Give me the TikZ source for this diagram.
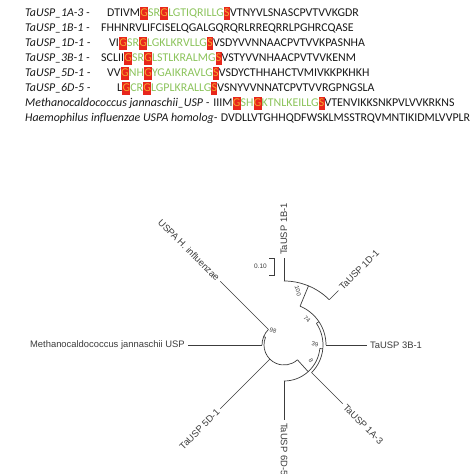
\documentclass[tikz,border=0pt]{standalone}
\usepackage{fontspec}
\setmainfont{Carlito}
\newfontfamily\treefont{Liberation Sans}
\definecolor{hlred}{RGB}{232,38,28}
\definecolor{hlorg}{RGB}{246,165,45}
\definecolor{seqgreen}{RGB}{140,196,92}
\definecolor{seqblack}{RGB}{25,25,25}
\definecolor{treegray}{RGB}{60,60,60}
\newcommand{\hlb}[1]{{\setlength{\fboxsep}{0.3pt}\colorbox{hlred}{\rule[-2.7pt]{0pt}{12pt}\textcolor{hlorg}{#1}}}}
\newcommand{\grn}[1]{\textcolor{seqgreen}{#1}}
\begin{document}
\begin{tikzpicture}[x=1pt,y=1pt,
  seq/.style={anchor=base west, inner sep=0pt, font=\fontsize{11.9}{13}\selectfont, text=seqblack},
  lab/.style={anchor=base west, inner sep=0pt, font=\fontsize{11.9}{13}\selectfont\itshape, text=seqblack},
  branch/.style={draw=treegray, line width=0.7pt},
  leaf/.style={font=\treefont\fontsize{9.4}{11}\selectfont, inner sep=0pt, text=treegray},
  boot/.style={font=\treefont\fontsize{6}{7}\selectfont, inner sep=0pt, text=treegray}]
\clip (0,0) rectangle (474,474);
\fill[white] (0,0) rectangle (474,474);
% alignment rows
\node[lab] (l1) at (25,457) {TaUSP\_1A-3 -};
\node[seq] (s1) at (107,457) {DTIVM\hlb{G}\grn{SR}\hlb{G}\grn{LGTIQRILLG}\hlb{S}VTNYVLSNASCPVTVVKGDR};
\node[lab] (l2) at (25,442) {TaUSP\_1B-1 -};
\node[seq] (s2) at (101,442) {FHHNRVLIFCISELQGALGQRQRLRREQRRLPGHRCQASE};
\node[lab] (l3) at (25,427) {TaUSP\_1D-1 -};
\node[seq] (s3) at (109,427) {VI\hlb{G}\grn{SR}\hlb{G}\grn{LGKLKRVLLG}\hlb{S}VSDYVVNNAACPVTVVKPASNHA};
\node[lab] (l4) at (25,412) {TaUSP\_3B-1 -};
\node[seq] (s4) at (101,412) {SCLII\hlb{G}\grn{SR}\hlb{G}\grn{LSTLKRALMG}\hlb{S}VSTYVVNHAACPVTVVKENM};
\node[lab] (l5) at (25,397) {TaUSP\_5D-1 -};
\node[seq] (s5) at (107,397) {VV\hlb{G}\grn{NH}\hlb{G}\grn{YGAIKRAVLG}\hlb{S}VSDYCTHHAHCTVMIVKKPKHKH};
\node[lab] (l6) at (25,382) {TaUSP\_6D-5 -};
\node[seq] (s6) at (117,382) {L\hlb{G}\grn{CR}\hlb{G}\grn{LGPLKRALLG}\hlb{S}VSNYVVNNATCPVTVVRGPNGSLA};
\node[lab] (l7) at (25,367) {Methanocaldococcus jannaschii\_USP -};
\node[seq] (s7) at ([xshift=3.5pt]l7.base east) {IIIM\hlb{G}\grn{SH}\hlb{G}\grn{KTNLKEILLG}\hlb{S}VTENVIKKSNKPVLVVKRKNS};
\node[lab] (l8) at (25,352) {Haemophilus influenzae USPA homolog-};
\node[seq] (s8) at ([xshift=3pt]l8.base east) {DVDLLVTGHHQDFWSKLMSSTRQVMNTIKIDMLVVPLR};
% tree
\begin{scope}[shift={(284,129)}]
  \coordinate (nA) at (67.5:64);
  \coordinate (nB) at (33.75:42);
  \coordinate (nD) at (-5.625:39);
  \coordinate (nE) at (-47.8125:36);
  \coordinate (nG) at (157.5:22);
  \coordinate (nF) at (0,0);
  % clade 100
  \draw[branch] (90:64) -- (90:87);
  \draw[branch] (45:64) -- (45:77);
  \draw[branch] (45:64) arc[start angle=45, end angle=90, radius=64];
  \draw[branch] (67.5:42) -- (nA);
  % clade 74
  \draw[branch] (0:42) arc[start angle=0, end angle=67.5, radius=42];
  \draw[branch] (0:42) -- (0:83);
  \draw[branch] (33.75:39) -- (nB);
  % clade 39
  \draw[branch] (-45:39) arc[start angle=-45, end angle=33.75, radius=39];
  \draw[branch] (-45:39) -- (-45:83);
  \draw[branch] (-5.625:36) -- (nD);
  % clade 8
  \draw[branch] (-90:36) arc[start angle=-90, end angle=-5.625, radius=36];
  \draw[branch] (-90:36) -- (-90:75);
  \draw[branch] (-47.8125:20) -- (nE);
  % root
  \draw[branch] (157.5:20) arc[start angle=157.5, end angle=312.1875, radius=20];
  \draw[branch] (225:20) -- (225:90);
  \draw[branch] (157.5:20) -- (nG);
  % clade 98
  \draw[branch] (135:22) arc[start angle=135, end angle=180, radius=22];
  \draw[branch] (135:22) -- (135:90);
  \draw[branch] (180:22) -- (180:96);
  % leaf labels
  \node[leaf, anchor=west, rotate=90] (t1b) at (90:90) {TaUSP 1B-1};
  \node[leaf, anchor=west, rotate=45] (t1d) at (45:80) {TaUSP 1D-1};
  \node[leaf, anchor=west] (t3b) at (0:86) {TaUSP 3B-1};
  \node[leaf, anchor=west, rotate=-45] (t1a) at (-45:86) {TaUSP 1A-3};
  \node[leaf, anchor=west, rotate=-90] (t6d) at (-90:78) {TaUSP 6D-5};
  \node[leaf, anchor=east, rotate=45] (t5d) at (225:93) {TaUSP 5D-1};
  \node[leaf, anchor=east] (tmj) at (180:99) {Methanocaldococcus jannaschii USP};
  \node[leaf, anchor=east, rotate=-45] (thi) at (135:93) {USPA H. influenzae};
  % bootstrap values
  \node[boot, rotate=-75] (b100) at (14,54) {100};
  \node[boot, rotate=-45] (b74) at (23,26) {74};
  \node[boot, rotate=-10] (b39) at (31,1) {39};
  \node[boot, rotate=-55] (b8) at (27,-16) {8};
  \node[boot, rotate=-20] (b98) at (-11,14) {98};
  % scale bar
  \coordinate (sbt) at (-10,87);
  \coordinate (sbb) at (-10,70);
  \draw[branch, line width=0.6pt] ([xshift=-5pt]sbt) -- (sbt) -- (sbb) -- ([xshift=-5pt]sbb);
  \node[boot, font=\treefont\fontsize{6.5}{7}\selectfont, anchor=east] (sbl) at (-17,78.5) {0.10};
\end{scope}
\end{tikzpicture}
\end{document}
